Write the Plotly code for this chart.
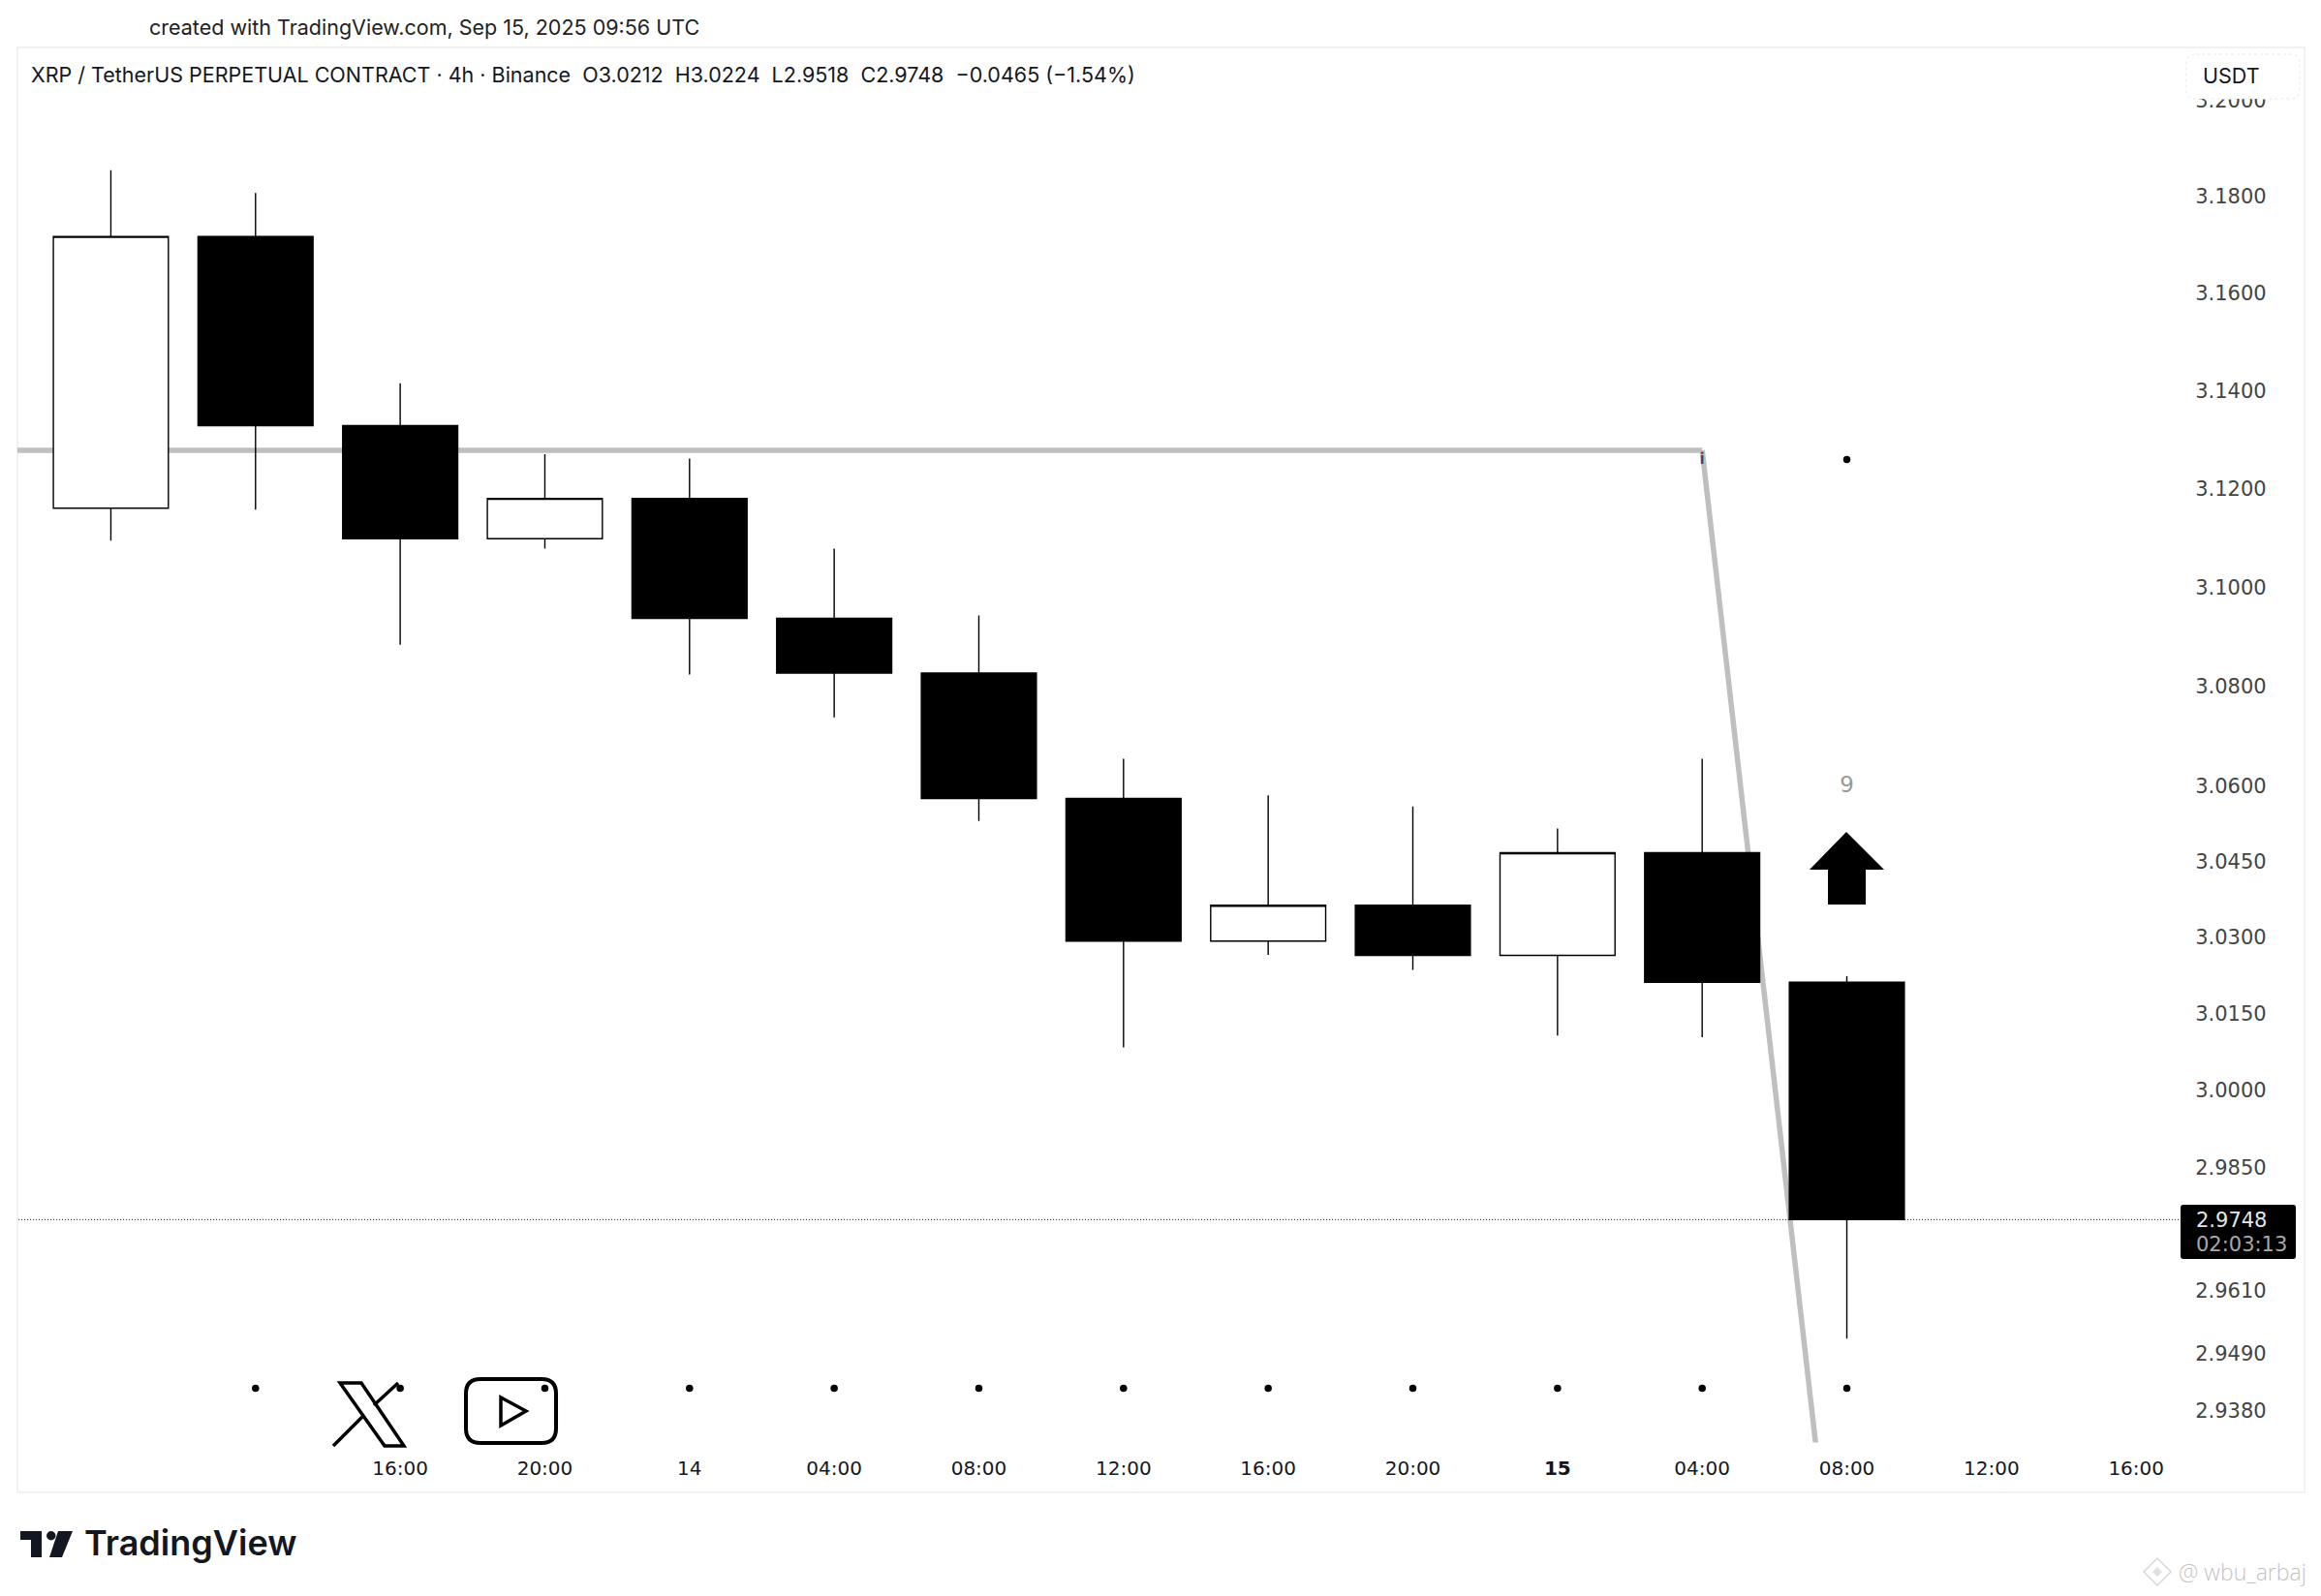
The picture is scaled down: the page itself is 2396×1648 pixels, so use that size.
import math
import plotly.graph_objects as go

# ---- data ----
times = ["2025-09-13 08:00","2025-09-13 12:00","2025-09-13 16:00","2025-09-13 20:00","2025-09-14 00:00",
         "2025-09-14 04:00","2025-09-14 08:00","2025-09-14 12:00","2025-09-14 16:00","2025-09-14 20:00",
         "2025-09-15 00:00","2025-09-15 04:00","2025-09-15 08:00"]
opens  = [3.1160,3.1717,3.1328,3.1098,3.1180,3.0937,3.0827,3.0576,3.0293,3.0364,3.0265,3.0468,3.0212]
highs  = [3.1854,3.1807,3.1415,3.1270,3.1261,3.1078,3.0943,3.0655,3.0582,3.0560,3.0516,3.0655,3.0224]
lows   = [3.1094,3.1157,3.0884,3.1078,3.0824,3.0738,3.0531,3.0084,3.0266,3.0236,3.0107,3.0104,2.9518]
closes = [3.1717,3.1328,3.1098,3.1180,3.0937,3.0827,3.0576,3.0293,3.0364,3.0265,3.0468,3.0212,2.9748]

price_ticks = [3.2,3.18,3.16,3.14,3.12,3.10,3.08,3.06,3.045,3.03,3.015,3.0,2.985,2.961,2.949,2.938]
time_ticks = ["2025-09-13 16:00","2025-09-13 20:00","2025-09-14 00:00","2025-09-14 04:00","2025-09-14 08:00",
              "2025-09-14 12:00","2025-09-14 16:00","2025-09-14 20:00","2025-09-15 00:00","2025-09-15 04:00",
              "2025-09-15 08:00","2025-09-15 12:00","2025-09-15 16:00"]
time_labels = ["16:00","20:00","14","04:00","08:00","12:00","16:00","20:00","<b>15</b>","04:00","08:00","12:00","16:00"]

line_times  = ["2025-09-13 04:00","2025-09-15 04:00","2025-09-15 07:20"]
line_values = [3.1278,3.1278,2.9199]
last_price = 2.9748
dot_times_low = times[1:]
dot_value_low = 2.9423
dot_time_high = "2025-09-15 08:00"
dot_value_high = 3.1259
count_label_value = 3.0600
info_time = "2025-09-15 04:00"
info_value = 3.1259

# the page body adds an 8px margin, so page pixels are converted to figure fractions with that offset
PAGE_MARGIN = 8
W, H = 2396 - 2 * PAGE_MARGIN, 1648 - 2 * PAGE_MARGIN
L, R, T, B = 18, 2250, 48.5, 1489.5
FONT = "Inter"
TICKFONT = "DejaVu Sans"
def X(p): return (p - PAGE_MARGIN) / W
def Y(p): return 1 - (p - PAGE_MARGIN) / H
def path(pts, close=True):
    s = "M" + " L".join(f"{X(a):.5f},{Y(b):.5f}" for a, b in pts)
    return s + (" Z" if close else "")
def rrect(x0, y0, x1, y1, r):
    return (f"M{X(x0+r):.5f},{Y(y0):.5f} L{X(x1-r):.5f},{Y(y0):.5f} "
            f"Q{X(x1):.5f},{Y(y0):.5f} {X(x1):.5f},{Y(y0+r):.5f} L{X(x1):.5f},{Y(y1-r):.5f} "
            f"Q{X(x1):.5f},{Y(y1):.5f} {X(x1-r):.5f},{Y(y1):.5f} L{X(x0+r):.5f},{Y(y1):.5f} "
            f"Q{X(x0):.5f},{Y(y1):.5f} {X(x0):.5f},{Y(y1-r):.5f} L{X(x0):.5f},{Y(y0+r):.5f} "
            f"Q{X(x0):.5f},{Y(y0):.5f} {X(x0+r):.5f},{Y(y0):.5f} Z")
def pshape(d, fill=None, color=None, width=0, layer="above", dash=None):
    return dict(type="path", xref="paper", yref="paper", path=d, layer=layer,
                fillcolor=fill or "rgba(0,0,0,0)",
                line=dict(color=color or "rgba(0,0,0,0)", width=width, dash=dash))

fig = go.Figure()
fig.add_trace(go.Candlestick(
    x=times, open=opens, high=highs, low=lows, close=closes,
    increasing=dict(line=dict(color="#000000", width=1.4), fillcolor="#ffffff"),
    decreasing=dict(line=dict(color="#000000", width=1.4), fillcolor="#000000"),
    whiskerwidth=0, showlegend=False, hoverinfo="skip"))
fig.add_trace(go.Scatter(x=dot_times_low + [dot_time_high], y=[dot_value_low]*len(dot_times_low) + [dot_value_high],
    mode="markers", marker=dict(color="#000000", size=7.5), showlegend=False, hoverinfo="skip"))
fig.add_trace(go.Scatter(x=[dot_time_high], y=[count_label_value], mode="text", text=["9"],
    textfont=dict(family=TICKFONT, size=23, color="#999999"), showlegend=False, hoverinfo="skip"))
fig.add_trace(go.Scatter(x=[info_time], y=[info_value], mode="text", text=["<b>i</b>"],
    textfont=dict(family=FONT, size=16, color="#444444"), showlegend=False, hoverinfo="skip"))

shapes = []
shapes.append(dict(type="rect", xref="paper", yref="paper", x0=X(18), x1=X(2379), y0=Y(1541), y1=Y(49),
                   layer="below", fillcolor="rgba(0,0,0,0)", line=dict(color="#f0f1f3", width=2)))
for i in range(len(line_times) - 1):
    shapes.append(dict(type="line", xref="x", yref="y", x0=line_times[i], x1=line_times[i+1],
                       y0=line_values[i], y1=line_values[i+1], layer="below",
                       line=dict(color="#bfbfbf", width=5.5)))
shapes.append(dict(type="line", xref="x", yref="y", x0=line_times[0], x1="2025-09-15 18:00",
                   y0=last_price, y1=last_price, layer="below",
                   line=dict(color="#111111", width=1, dash="1px,2px")))
shapes.append(pshape(path([(1906,859),(1945,898),(1926,898),(1926,934),(1887,934),(1887,898),(1868,898)]), fill="#000000"))
shapes.append(pshape(rrect(2257,56,2374,102,10), fill="#ffffff", color="#f0f0f0", width=1.5, dash="dot"))
shapes.append(pshape(rrect(2251,1244,2370,1300,3), fill="#000000"))
shapes.append(pshape(path([(351,1428),(373,1428),(417,1493),(397,1493)]), color="#000000", width=3.5))
shapes.append(pshape(path([(411,1428),(386,1451)], close=False), color="#000000", width=3.5))
shapes.append(pshape(path([(374,1463),(344,1493)], close=False), color="#000000", width=3.5))
shapes.append(pshape(rrect(481,1424,574,1490,15), color="#000000", width=4))
shapes.append(pshape(path([(517,1443),(543,1457),(517,1472)]), color="#000000", width=3.5))
shapes.append(pshape(path([(21,1581),(43,1581),(43,1608),(32,1608),(32,1590),(21,1590)]), fill="#131722"))
shapes.append(dict(type="circle", xref="paper", yref="paper", x0=X(48), x1=X(57.5), y0=Y(1590.5), y1=Y(1581),
                   fillcolor="#131722", line=dict(width=0), layer="above"))
shapes.append(pshape(path([(60,1581),(75,1581),(64,1608),(51,1608)]), fill="#131722"))
shapes.append(pshape(path([(2227,1609),(2241,1623),(2227,1637),(2213,1623)]), color="#d8d8d8", width=1.5))
shapes.append(pshape(path([(2227,1618),(2232,1623),(2227,1628),(2222,1623)]), fill="#e0e0e0"))

def note(text, x, y, size, color, anchor="left", family=FONT, weight=None):
    return dict(xref="paper", yref="paper", x=X(x), y=Y(y), text=text, showarrow=False, xanchor=anchor,
                yanchor="middle", font=dict(family=family, size=size, color=color, weight=weight), align="left")
nb = "\u00a0\u00a0"
header = "XRP / TetherUS PERPETUAL CONTRACT · 4h · Binance" + nb + "O3.0212" + nb + "H3.0224" + nb + "L2.9518" + nb + "C2.9748" + nb + "−0.0465 (−1.54%)"
annotations = [
    note("created with TradingView.com, Sep 15, 2025 09:56 UTC", 152, 28, 21.5, "#222222"),
    note(header, 30, 77, 21.5, "#131722"),
    note("USDT", 2272, 78, 21.5, "#131722"),
    note("2.9748", 2265, 1260, 21, "#e6e6e6", family=TICKFONT),
    note("02:03:13", 2265, 1285, 21, "#a8a8a8", family=TICKFONT),
    note("TradingView", 85, 1593, 36, "#131722", weight=600),
    note("@ wbu_arbaj", 2247, 1623, 23, "#c4c4c4", family="Open Sans", weight=300),
]

fig.update_layout(
    width=W, height=H, margin=dict(l=0, r=0, t=0, b=0, autoexpand=False),
    paper_bgcolor="#ffffff", plot_bgcolor="#ffffff", boxgap=0.205, boxgroupgap=0,
    shapes=shapes, annotations=annotations, showlegend=False,
    xaxis=dict(domain=[X(L), X(R)], type="date", range=["2025-09-13 05:25", "2025-09-15 17:12"],
               rangeslider=dict(visible=False), showgrid=False, zeroline=False, showline=False,
               tickmode="array", tickvals=time_ticks, ticktext=time_labels,
               ticks="outside", ticklen=8, tickcolor="rgba(0,0,0,0)",
               tickfont=dict(family=TICKFONT, size=20, color="#131722")),
    yaxis=dict(domain=[Y(B), Y(T)], type="log", side="right",
               range=[math.log10(2.9319), math.log10(3.2111)], showgrid=False, zeroline=False, showline=False,
               tickmode="array", tickvals=price_ticks, ticktext=[f"{v:.4f}" for v in price_ticks],
               ticks="outside", ticklen=11, tickcolor="rgba(0,0,0,0)",
               tickfont=dict(family=TICKFONT, size=21, color="#444444")),
)
fig.write_html("out.html", config=dict(displayModeBar=False))
